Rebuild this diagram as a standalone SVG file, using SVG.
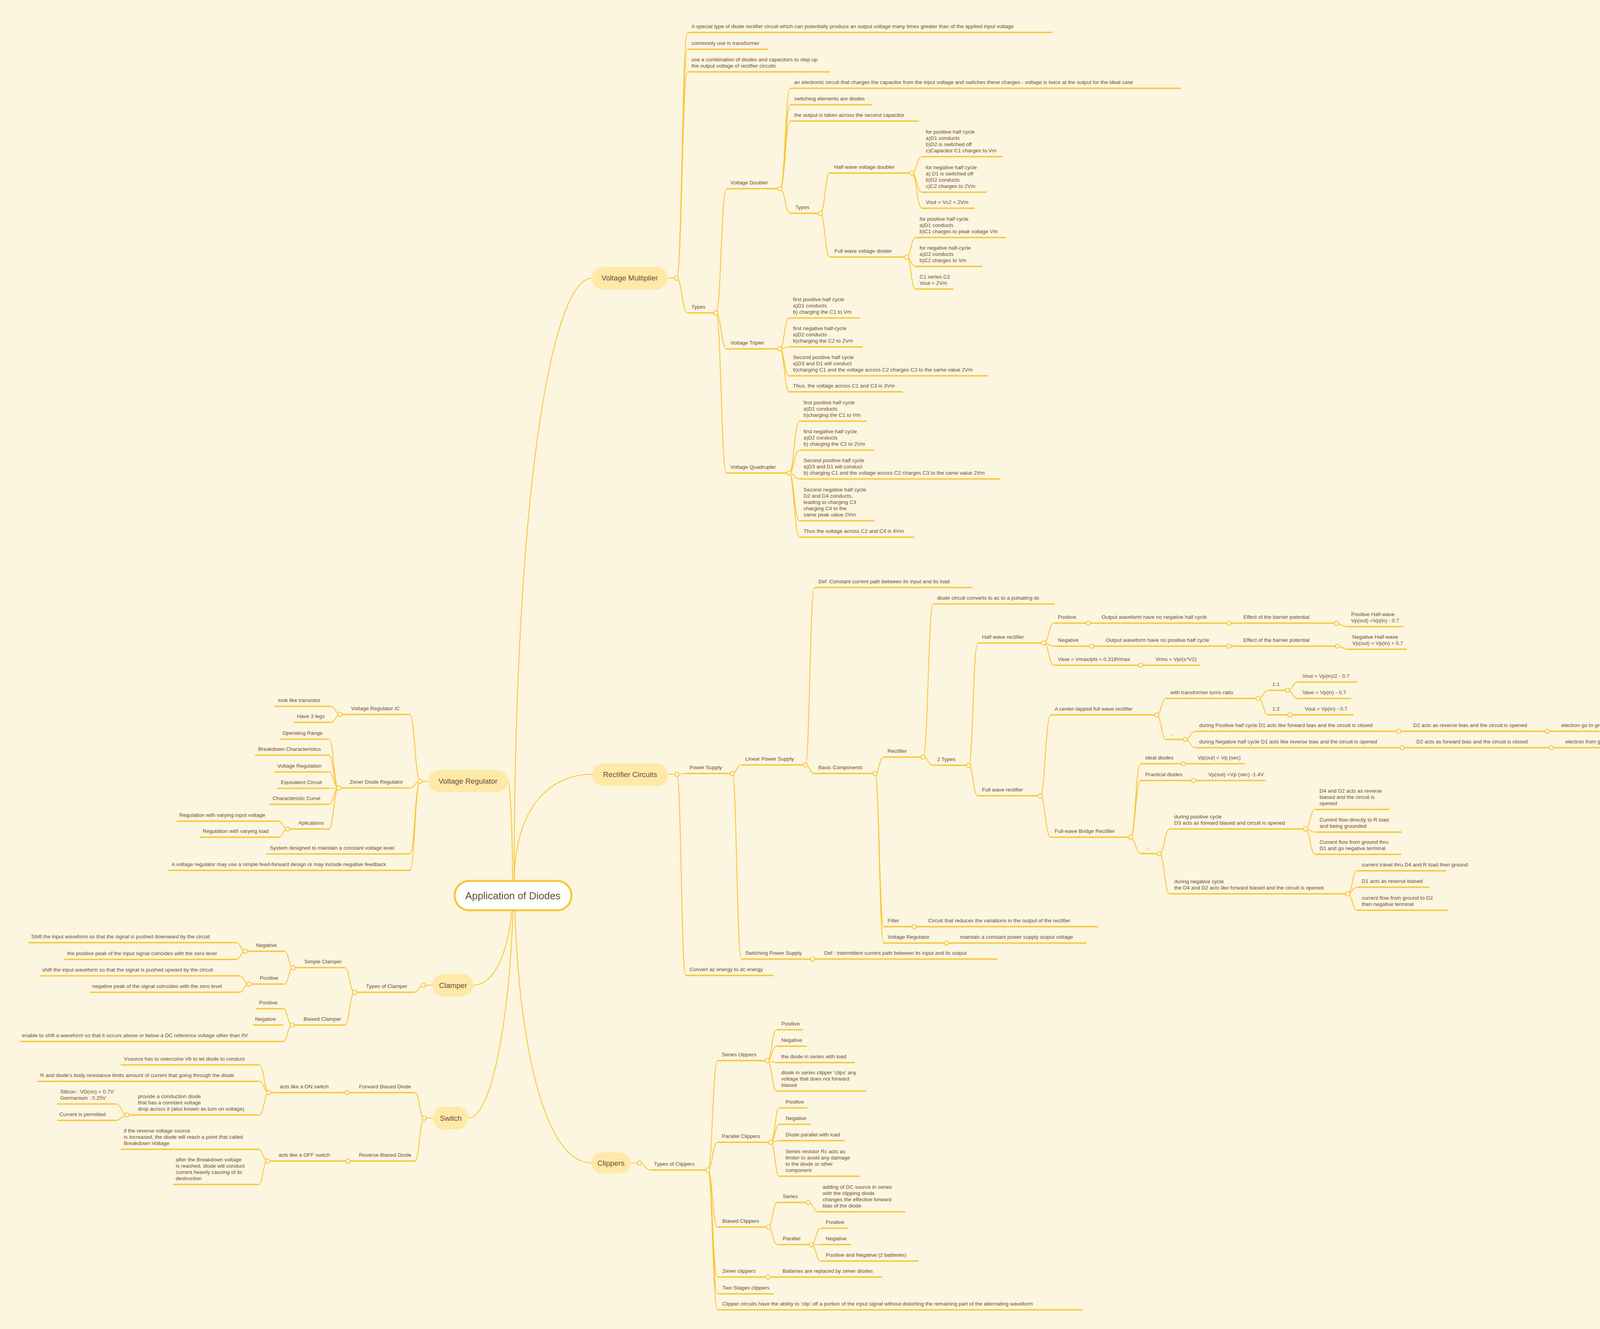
<svg xmlns="http://www.w3.org/2000/svg" width="4766" height="3402" viewBox="0 0 4766 3402">
<style>
.bg{fill:#FCF5DF}
.l{fill:none;stroke:#F8C635;stroke-width:2.2}
.u{stroke:#F8C635;stroke-width:3.5}
.j{fill:#FCF5DF;stroke:#F8C635;stroke-width:2.2}
.t{font-family:"Liberation Sans",Arial,sans-serif;font-size:13.5px;fill:#6B4F3B}
.b{font-family:"Liberation Sans",Arial,sans-serif;font-size:19px;fill:#6B4F3B;text-anchor:middle}
.c{font-family:"Liberation Sans",Arial,sans-serif;font-size:26px;fill:#6B4F3B;text-anchor:middle}
.bn{fill:#FEE9A8}
</style>
<rect class="bg" x="0" y="0" width="4766" height="3402"/>
<g id="connectors">
<path class="l" d="M1316 2255C1318 1200 1420 712 1515 712"/>
<path class="l" d="M1316 2255C1320 2050 1420 1982 1516 1982"/>
<path class="l" d="M1312 2255C1312 2100 1305 2000 1300 2000"/>
<path class="l" d="M1310 2330C1300 2450 1260 2522 1212 2522"/>
<path class="l" d="M1313 2330C1305 2600 1260 2862 1199 2862"/>
<path class="l" d="M1318 2330C1330 2700 1400 2977 1514 2977"/>
<path class="l" d="M1710 712H1732M1711 1982H1733M1097 2000H1076M1107 2522H1084M1108 2862H1086M1614 2977H1637"/>
<!-- VM -->
<path class="l" d="M1732 712C1746 712 1746 83 1760 83M1732 712C1746 712 1746 126 1760 126M1732 712C1746 712 1746 184 1760 184M1732 712C1746 712 1746 801 1760 801"/>
<path class="l" d="M1833 801C1846 801 1846 483 1860 483M1833 801C1846 801 1846 893 1860 893M1833 801C1846 801 1846 1211 1860 1211"/>
<path class="l" d="M1997 483C2010 483 2010 226 2023 226M1997 483C2010 483 2010 268 2023 268M1997 483C2010 483 2010 310 2023 310M1997 483C2010 483 2010 546 2023 546"/>
<path class="l" d="M2100 546C2112 546 2112 443 2124 443M2100 546C2112 546 2112 658 2124 658"/>
<path class="l" d="M2334 443C2347 443 2347 401 2360 401M2334 443C2347 443 2347 492 2360 492M2334 443C2347 443 2347 533 2360 533"/>
<path class="l" d="M2321 658C2332 658 2332 608 2344 608M2321 658C2332 658 2332 682 2344 682M2321 658C2332 658 2332 740 2344 740"/>
<path class="l" d="M1996 893C2008 893 2008 814 2020 814M1996 893C2008 893 2008 888 2020 888M1996 893C2008 893 2008 962 2020 962M1996 893C2008 893 2008 1003 2020 1003"/>
<path class="l" d="M2020 1211C2033 1211 2033 1078 2047 1078M2020 1211C2033 1211 2033 1152 2047 1152M2020 1211C2033 1211 2033 1226 2047 1226M2020 1211C2033 1211 2033 1333 2047 1333M2020 1211C2033 1211 2033 1375 2047 1375"/>
<!-- Rectifier -->
<path class="l" d="M1733 1982C1744 1982 1744 1980 1755 1980M1733 1982C1744 1982 1744 2497 1755 2497"/>
<path class="l" d="M1875 1980C1886 1980 1886 1958 1898 1958M1875 1980C1886 1980 1886 2455 1898 2455"/>
<path class="l" d="M2062 1958C2073 1958 2073 1504 2085 1504M2062 1958C2073 1958 2073 1980 2085 1980"/>
<path class="l" d="M2240 1980C2251 1980 2251 1938 2262 1938M2240 1980C2251 1980 2251 2372 2262 2372M2240 1980C2251 1980 2251 2414 2262 2414"/>
<path class="l" d="M2363 1938C2376 1938 2376 1546 2389 1546M2363 1938C2376 1938 2376 1959 2389 1959"/>
<path class="l" d="M2480 1959C2491 1959 2491 1646 2503 1646M2480 1959C2491 1959 2491 2037 2503 2037"/>
<path class="l" d="M2672 1646C2685 1646 2685 1595 2698 1595M2672 1646C2685 1646 2685 1654 2698 1654M2672 1646C2685 1646 2685 1703 2698 1703"/>
<path class="l" d="M3421 1596C3434 1596 3434 1604 3447 1604M3424 1654C3437 1654 3437 1662 3450 1662"/>
<path class="l" d="M2663 2037C2676 2037 2676 1830 2690 1830M2663 2037C2676 2037 2676 2143 2690 2143"/>
<path class="l" d="M2961 1830C2973 1830 2973 1788 2985 1788M2961 1830C2973 1830 2973 1893 2985 1893"/>
<path class="l" d="M3221 1788C3234 1788 3234 1767 3247 1767M3221 1788C3234 1788 3234 1830 3247 1830"/>
<path class="l" d="M3296 1767C3309 1767 3309 1746 3322 1746M3296 1767C3309 1767 3309 1788 3322 1788"/>
<path class="l" d="M3034 1893C3047 1893 3047 1872 3060 1872M3034 1893C3047 1893 3047 1914 3060 1914"/>
<path class="l" d="M2894 2143C2907 2143 2907 1955 2920 1955M2894 2143C2907 2143 2907 1998 2920 1998M2894 2143C2907 2143 2907 2185 2920 2185"/>
<path class="l" d="M2968 2185C2981 2185 2981 2122 2994 2122M2968 2185C2981 2185 2981 2288 2994 2288"/>
<path class="l" d="M3342 2122C3354 2122 3354 2072 3367 2072M3342 2122C3354 2122 3354 2130 3367 2130M3342 2122C3354 2122 3354 2187 3367 2187"/>
<path class="l" d="M3450 2288C3462 2288 3462 2229 3474 2229M3450 2288C3462 2288 3462 2271 3474 2271M3450 2288C3462 2288 3462 2330 3474 2330"/>
<!-- Voltage Regulator -->
<path class="l" d="M1076 2000C1062 2000 1062 1829 1049 1829M1076 2000C1062 2000 1062 2017 1049 2017M1076 2000C1062 2000 1062 2186 1049 2186M1076 2000C1062 2000 1062 2228 1049 2228"/>
<path class="l" d="M871 1829C859 1829 859 1808 847 1808M871 1829C859 1829 859 1849 847 1849"/>
<path class="l" d="M867 2017C854 2017 854 1892 842 1892M867 2017C854 2017 854 1933 842 1933M867 2017C854 2017 854 1976 842 1976M867 2017C854 2017 854 2018 842 2018M867 2017C854 2017 854 2059 842 2059M867 2017C854 2017 854 2122 842 2122"/>
<path class="l" d="M736 2122C724 2122 724 2102 713 2102M736 2122C724 2122 724 2143 713 2143"/>
<!-- Clamper -->
<path class="l" d="M1084 2522C1072 2522 1072 2540 1061 2540"/>
<path class="l" d="M908 2540C895 2540 895 2477 883 2477M908 2540C895 2540 895 2624 883 2624"/>
<path class="l" d="M750 2477C739 2477 739 2435 728 2435M750 2477C739 2477 739 2519 728 2519"/>
<path class="l" d="M628 2435C616 2435 616 2413 605 2413M628 2435C616 2435 616 2456 605 2456"/>
<path class="l" d="M637 2519C625 2519 625 2498 613 2498M637 2519C625 2519 625 2540 613 2540"/>
<path class="l" d="M748 2624C736 2624 736 2582 725 2582M748 2624C736 2624 736 2666 725 2666"/>
<!-- Switch -->
<path class="l" d="M1086 2862C1074 2862 1074 2797 1062 2797M1086 2862C1074 2862 1074 2972 1062 2972"/>
<path class="l" d="M688 2797C676 2797 676 2726 664 2726M688 2797C676 2797 676 2768 664 2768M688 2797C676 2797 676 2854 664 2854"/>
<path class="l" d="M325 2854C311 2854 311 2826 297 2826M325 2854C311 2854 311 2868 297 2868"/>
<path class="l" d="M685 2972C673 2972 673 2942 662 2942M685 2972C673 2972 673 3032 662 3032"/>
<!-- Clippers -->
<path class="l" d="M1637 2977C1651 2977 1651 2995 1665 2995"/>
<path class="l" d="M1812 2995C1824 2995 1824 2715 1837 2715M1812 2995C1824 2995 1824 2924 1837 2924M1812 2995C1824 2995 1824 3141 1837 3141M1812 2995C1824 2995 1824 3269 1837 3269M1812 2995C1824 2995 1824 3312 1837 3312M1812 2995C1824 2995 1824 3353 1837 3353"/>
<path class="l" d="M1964 2715C1976 2715 1976 2636 1988 2636M1964 2715C1976 2715 1976 2678 1988 2678M1964 2715C1976 2715 1976 2720 1988 2720M1964 2715C1976 2715 1976 2793 1988 2793"/>
<path class="l" d="M1973 2924C1984 2924 1984 2836 1995 2836M1973 2924C1984 2924 1984 2878 1995 2878M1973 2924C1984 2924 1984 2920 1995 2920M1973 2924C1984 2924 1984 3011 1995 3011"/>
<path class="l" d="M1967 3141C1978 3141 1978 3078 1990 3078M1967 3141C1978 3141 1978 3186 1990 3186"/>
<path class="l" d="M2069 3078C2082 3078 2082 3102 2096 3102"/>
<path class="l" d="M2077 3186C2089 3186 2089 3144 2101 3144M2077 3186C2089 3186 2089 3186 2101 3186M2077 3186C2089 3186 2089 3228 2101 3228"/>
</g>

<g id="center"><rect x="1164" y="2255" width="299" height="75" rx="37" fill="#FFFFFF" stroke="#F8C635" stroke-width="5"/><text class="c" x="1313" y="2302">Application of Diodes</text></g>

<g id="voltage-multiplier"><rect class="bn" x="1515" y="683" width="195" height="58" rx="29"/><text class="b" x="1612" y="718">Voltage Multiplier</text><circle class="j" cx="1732" cy="712" r="5.5"/></g>
<g id="vm-def"><line class="u" x1="1760" y1="83" x2="2694" y2="83"/><text class="t" x="1770" y="72">A special type of diode rectifier circuit which can potentially produce an output voltage many times greater than of the applied input voltage</text></g>
<g id="vm-transformer"><line class="u" x1="1760" y1="126" x2="1966" y2="126"/><text class="t" x="1770" y="115">commonly use in transformer</text></g>
<g id="vm-combination"><line class="u" x1="1760" y1="184" x2="2125" y2="184"/><text class="t" x="1770" y="157">use a combination of diodes and capacitors to step up<tspan x="1770" y="173">the output voltage of rectifier circuits</tspan></text></g>
<g id="vm-types"><line class="u" x1="1760" y1="801" x2="1833" y2="801"/><text class="t" x="1770" y="790">Types</text><circle class="j" cx="1833" cy="801" r="5.5"/></g>
<g id="doubler"><line class="u" x1="1860" y1="483" x2="1997" y2="483"/><text class="t" x="1870" y="472">Voltage Doubler</text><circle class="j" cx="1997" cy="483" r="5.5"/></g>
<g id="d1"><line class="u" x1="2023" y1="226" x2="3024" y2="226"/><text class="t" x="2033" y="215">an electronic circuit that charges the capacitor from the input voltage and switches these charges - voltage is twice at the output for the ideal case</text></g>
<g id="d2"><line class="u" x1="2023" y1="268" x2="2233" y2="268"/><text class="t" x="2033" y="257">switching elements are diodes</text></g>
<g id="d3"><line class="u" x1="2023" y1="310" x2="2353" y2="310"/><text class="t" x="2033" y="299">the output is taken across the second capacitor</text></g>
<g id="d-types"><line class="u" x1="2023" y1="546" x2="2100" y2="546"/><text class="t" x="2036" y="535">Types</text><circle class="j" cx="2100" cy="546" r="5.5"/></g>
<g id="half-doubler"><line class="u" x1="2124" y1="443" x2="2334" y2="443"/><text class="t" x="2135" y="432">Half wave voltage doubler</text><circle class="j" cx="2334" cy="443" r="5.5"/></g>
<g id="hd1"><line class="u" x1="2360" y1="401" x2="2566" y2="401"/><text class="t" x="2370" y="342">for positive half cycle<tspan x="2370" y="358">a)D1 conducts</tspan><tspan x="2370" y="374">b)D2 is switched off</tspan><tspan x="2370" y="390">c)Capacitor C1 charges to Vm</tspan></text></g>
<g id="hd2"><line class="u" x1="2360" y1="492" x2="2526" y2="492"/><text class="t" x="2370" y="433">for negative half cycle<tspan x="2370" y="449">a) D1 is switched off</tspan><tspan x="2370" y="465">b)D2 conducts</tspan><tspan x="2370" y="481">c)C2 charges to 2Vm</tspan></text></g>
<g id="hd3"><line class="u" x1="2360" y1="533" x2="2495" y2="533"/><text class="t" x="2370" y="522">Vout = Vc2 = 2Vm</text></g>
<g id="full-doubler"><line class="u" x1="2124" y1="658" x2="2321" y2="658"/><text class="t" x="2136" y="647">Full wave voltage divider</text><circle class="j" cx="2321" cy="658" r="5.5"/></g>
<g id="fd1"><line class="u" x1="2344" y1="608" x2="2575" y2="608"/><text class="t" x="2354" y="565">for positive half cycle<tspan x="2354" y="581">a)D1 conducts</tspan><tspan x="2354" y="597">b)C1 charges to peak voltage Vm</tspan></text></g>
<g id="fd2"><line class="u" x1="2344" y1="682" x2="2515" y2="682"/><text class="t" x="2354" y="639">for negative half-cycle<tspan x="2354" y="655">a)D2 conducts</tspan><tspan x="2354" y="671">b)C2 charges to Vm</tspan></text></g>
<g id="fd3"><line class="u" x1="2344" y1="740" x2="2441" y2="740"/><text class="t" x="2354" y="713">C1 series C2<tspan x="2354" y="729">Vout = 2Vm</tspan></text></g>
<g id="tripler"><line class="u" x1="1860" y1="893" x2="1996" y2="893"/><text class="t" x="1870" y="882">Voltage Tripler</text><circle class="j" cx="1996" cy="893" r="5.5"/></g>
<g id="t1"><line class="u" x1="2020" y1="814" x2="2201" y2="814"/><text class="t" x="2030" y="771">first positive half cycle<tspan x="2030" y="787">a)D1 conducts</tspan><tspan x="2030" y="803">b) charging the C1 to Vm</tspan></text></g>
<g id="t2"><line class="u" x1="2020" y1="888" x2="2209" y2="888"/><text class="t" x="2030" y="845">first negative half-cycle<tspan x="2030" y="861">a)D2 conducts</tspan><tspan x="2030" y="877">b)charging the C2 to 2Vm</tspan></text></g>
<g id="t3"><line class="u" x1="2020" y1="962" x2="2529" y2="962"/><text class="t" x="2030" y="919">Second positive half cycle<tspan x="2030" y="935">a)D3 and D1 will conduct</tspan><tspan x="2030" y="951">b)charging C1 and the voltage across C2 charges C3 to the same value 2Vm</tspan></text></g>
<g id="t4"><line class="u" x1="2020" y1="1003" x2="2311" y2="1003"/><text class="t" x="2030" y="992">Thus, the voltage across C1 and C3 is 3Vm</text></g>
<g id="quadrupler"><line class="u" x1="1860" y1="1211" x2="2020" y2="1211"/><text class="t" x="1870" y="1200">Voltage Quadrupler</text><circle class="j" cx="2020" cy="1211" r="5.5"/></g>
<g id="q1"><line class="u" x1="2047" y1="1078" x2="2219" y2="1078"/><text class="t" x="2057" y="1035">first positive half cycle<tspan x="2057" y="1051">a)D1 conducts</tspan><tspan x="2057" y="1067">b)charging the C1 to Vm</tspan></text></g>
<g id="q2"><line class="u" x1="2047" y1="1152" x2="2238" y2="1152"/><text class="t" x="2057" y="1109">first negative half cycle<tspan x="2057" y="1125">a)D2 conducts</tspan><tspan x="2057" y="1141">b) charging the C2 to 2Vm</tspan></text></g>
<g id="q3"><line class="u" x1="2047" y1="1226" x2="2560" y2="1226"/><text class="t" x="2057" y="1183">Second positive half cycle<tspan x="2057" y="1199">a)D3 and D1 will conduct</tspan><tspan x="2057" y="1215">b) charging C1 and the voltage across C2 charges C3 to the same value 2Vm</tspan></text></g>
<g id="q4"><line class="u" x1="2047" y1="1333" x2="2238" y2="1333"/><text class="t" x="2057" y="1258">Second negative half cycle<tspan x="2057" y="1274">D2 and D4 conducts,</tspan><tspan x="2057" y="1290">leading to charging C3</tspan><tspan x="2057" y="1306">charging C4 to the</tspan><tspan x="2057" y="1322">same peak value 2Vm</tspan></text></g>
<g id="q5"><line class="u" x1="2047" y1="1375" x2="2341" y2="1375"/><text class="t" x="2057" y="1364">Thus the voltage across C2 and C4 is 4Vm</text></g>

<g id="rectifier-circuits"><rect class="bn" x="1516" y="1954" width="195" height="58" rx="29"/><text class="b" x="1613" y="1989">Rectifier Circuits</text><circle class="j" cx="1733" cy="1982" r="5.5"/></g>
<g id="power-supply"><line class="u" x1="1755" y1="1980" x2="1875" y2="1980"/><text class="t" x="1765" y="1969">Power Supply</text><circle class="j" cx="1875" cy="1980" r="5.5"/></g>
<g id="convert"><line class="u" x1="1755" y1="2497" x2="1981" y2="2497"/><text class="t" x="1765" y="2486">Convert ac energy to dc energy</text></g>
<g id="linear-ps"><line class="u" x1="1898" y1="1958" x2="2062" y2="1958"/><text class="t" x="1908" y="1947">Linear Power Supply</text><circle class="j" cx="2062" cy="1958" r="5.5"/></g>
<g id="switching-ps"><line class="u" x1="1898" y1="2455" x2="2554" y2="2455"/><text class="t" x="1908" y="2444">Switching Power Supply</text><text class="t" x="2110" y="2444">Def : intermittent current path between its input and its output</text><circle class="j" cx="2080" cy="2455" r="5.5"/></g>
<g id="lps-def"><line class="u" x1="2085" y1="1504" x2="2489" y2="1504"/><text class="t" x="2095" y="1493">Def :Constant current path between its input and its load</text></g>
<g id="basic-components"><line class="u" x1="2085" y1="1980" x2="2240" y2="1980"/><text class="t" x="2095" y="1969">Basic Components</text><circle class="j" cx="2240" cy="1980" r="5.5"/></g>
<g id="rectifier"><line class="u" x1="2262" y1="1938" x2="2363" y2="1938"/><text class="t" x="2272" y="1927">Rectifier</text><circle class="j" cx="2363" cy="1938" r="5.5"/></g>
<g id="filter"><line class="u" x1="2262" y1="2372" x2="2811" y2="2372"/><text class="t" x="2272" y="2361">Filter</text><text class="t" x="2376" y="2361">Circuit that reduces the variations in the output of the rectifier</text><circle class="j" cx="2340" cy="2372" r="5.5"/></g>
<g id="bc-regulator"><line class="u" x1="2262" y1="2414" x2="2781" y2="2414"/><text class="t" x="2272" y="2403">Voltage Regulator</text><text class="t" x="2458" y="2403">maintain a constant power supply output voltage</text><circle class="j" cx="2423" cy="2414" r="5.5"/></g>
<g id="r-def"><line class="u" x1="2389" y1="1546" x2="2700" y2="1546"/><text class="t" x="2399" y="1535">diode circuit converts to ac to a pulsating dc</text></g>
<g id="two-types"><line class="u" x1="2389" y1="1959" x2="2480" y2="1959"/><text class="t" x="2399" y="1948">2 Types</text><circle class="j" cx="2480" cy="1959" r="5.5"/></g>
<g id="half-wave"><line class="u" x1="2503" y1="1646" x2="2672" y2="1646"/><text class="t" x="2514" y="1635">Half wave rectifier</text><circle class="j" cx="2672" cy="1646" r="5.5"/></g>
<g id="hw-positive"><line class="u" x1="2698" y1="1595" x2="3421" y2="1595"/><text class="t" x="2708" y="1584">Positive</text><text class="t" x="2820" y="1584">Output waveform have no negative half cycle</text><text class="t" x="3183" y="1584">Effect of the barrier potential</text><circle class="j" cx="2786" cy="1595" r="5.5"/><circle class="j" cx="3146" cy="1595" r="5.5"/><line class="u" x1="3447" y1="1604" x2="3593" y2="1604"/><text class="t" x="3459" y="1577">Positive Half-wave<tspan x="3459" y="1593">Vp(out) =Vp(in) - 0.7</tspan></text><circle class="j" cx="3421" cy="1596" r="5.5"/></g>
<g id="hw-negative"><line class="u" x1="2698" y1="1654" x2="3424" y2="1654"/><text class="t" x="2708" y="1643">Negative</text><text class="t" x="2831" y="1643">Output waveform have no positive half cycle</text><text class="t" x="3183" y="1643">Effect of the barrier potential</text><circle class="j" cx="2794" cy="1654" r="5.5"/><circle class="j" cx="3146" cy="1654" r="5.5"/><line class="u" x1="3450" y1="1662" x2="3602" y2="1662"/><text class="t" x="3462" y="1635">Negative Half-wave<tspan x="3462" y="1651">Vp(out) = Vp(in) + 0.7</tspan></text><circle class="j" cx="3424" cy="1654" r="5.5"/></g>
<g id="hw-vave"><line class="u" x1="2698" y1="1703" x2="3073" y2="1703"/><text class="t" x="2708" y="1692">Vave = Vmax/phi = 0.318Vmax</text><text class="t" x="2958" y="1692">Vrms = Vp/(s^V2)</text><circle class="j" cx="2920" cy="1703" r="5.5"/></g>
<g id="full-wave"><line class="u" x1="2503" y1="2037" x2="2663" y2="2037"/><text class="t" x="2514" y="2026">Full wave rectifier</text><circle class="j" cx="2663" cy="2037" r="5.5"/></g>
<g id="center-tapped"><line class="u" x1="2690" y1="1830" x2="2961" y2="1830"/><text class="t" x="2700" y="1819">A center-tapped full wave rectifier</text><circle class="j" cx="2961" cy="1830" r="5.5"/></g>
<g id="turns-ratio"><line class="u" x1="2985" y1="1788" x2="3221" y2="1788"/><text class="t" x="2996" y="1777">with transformer turns ratio</text><circle class="j" cx="3221" cy="1788" r="5.5"/></g>
<g id="ratio11"><line class="u" x1="3247" y1="1767" x2="3296" y2="1767"/><text class="t" x="3257" y="1756">1:1</text><circle class="j" cx="3296" cy="1767" r="5.5"/></g>
<g id="r11a"><line class="u" x1="3322" y1="1746" x2="3474" y2="1746"/><text class="t" x="3334" y="1735">Vout = Vp(in)/2 - 0.7</text></g>
<g id="r11b"><line class="u" x1="3322" y1="1788" x2="3459" y2="1788"/><text class="t" x="3334" y="1777">Vave = Vp(in) - 0.7</text></g>
<g id="ratio12"><line class="u" x1="3247" y1="1830" x2="3465" y2="1830"/><text class="t" x="3257" y="1819">1:2</text><text class="t" x="3340" y="1819">Vout = Vp(in) - 0.7</text><circle class="j" cx="3302" cy="1830" r="5.5"/></g>
<g id="ct-dots"><line class="u" x1="2985" y1="1893" x2="3034" y2="1893"/><text class="t" x="2998" y="1882">..</text><circle class="j" cx="3034" cy="1893" r="5.5"/></g>
<g id="ct-pos"><line class="u" x1="3060" y1="1872" x2="4214" y2="1872"/><text class="t" x="3070" y="1861">during Positive half cycle D1 acts like forward bias and the circuit is closed</text><text class="t" x="3618" y="1861">D2 acts as reverse bias and the circuit is opened</text><text class="t" x="3997" y="1861">electron go to ground via R load</text><circle class="j" cx="3581" cy="1872" r="5.5"/><circle class="j" cx="3961" cy="1872" r="5.5"/></g>
<g id="ct-neg"><line class="u" x1="3060" y1="1914" x2="4716" y2="1914"/><text class="t" x="3070" y="1903">during Negative half cycle D1 acts like reverse bias and the circuit is opened</text><text class="t" x="3626" y="1903">D2 acts as forward bias and the circuit is closed</text><text class="t" x="4007" y="1903">electron from ground enter form half point and going through the D2 and backs again to ground via R load</text><circle class="j" cx="3590" cy="1914" r="5.5"/><circle class="j" cx="3971" cy="1914" r="5.5"/></g>
<g id="bridge"><line class="u" x1="2690" y1="2143" x2="2894" y2="2143"/><text class="t" x="2700" y="2132">Full-wave Bridge Rectifier</text><circle class="j" cx="2894" cy="2143" r="5.5"/></g>
<g id="ideal"><line class="u" x1="2920" y1="1955" x2="3186" y2="1955"/><text class="t" x="2932" y="1944">ideal diodes</text><text class="t" x="3066" y="1944">Vp(out) = Vp (sec)</text><circle class="j" cx="3030" cy="1955" r="5.5"/></g>
<g id="practical"><line class="u" x1="2920" y1="1998" x2="3240" y2="1998"/><text class="t" x="2932" y="1987">Practical diodes</text><text class="t" x="3093" y="1987">Vp(out) =Vp (sec) -1.4V</text><circle class="j" cx="3056" cy="1998" r="5.5"/></g>
<g id="fb-dots"><line class="u" x1="2920" y1="2185" x2="2968" y2="2185"/><text class="t" x="2935" y="2174">..</text><circle class="j" cx="2968" cy="2185" r="5.5"/></g>
<g id="fb-pos"><line class="u" x1="2994" y1="2122" x2="3342" y2="2122"/><text class="t" x="3006" y="2095">during positive cycle<tspan x="3006" y="2111">D3 acts as forward biased and circuit is opened</tspan></text><circle class="j" cx="3342" cy="2122" r="5.5"/></g>
<g id="fbp1"><line class="u" x1="3367" y1="2072" x2="3557" y2="2072"/><text class="t" x="3378" y="2029">D4 and D2 acts as reverse<tspan x="3378" y="2045">biased and the circuit is</tspan><tspan x="3378" y="2061">opened</tspan></text></g>
<g id="fbp2"><line class="u" x1="3367" y1="2130" x2="3588" y2="2130"/><text class="t" x="3378" y="2103">Current flow directly to R load<tspan x="3378" y="2119">and being grounded</tspan></text></g>
<g id="fbp3"><line class="u" x1="3367" y1="2187" x2="3588" y2="2187"/><text class="t" x="3378" y="2160">Current flow from ground thru<tspan x="3378" y="2176">D1 and go negative terminal</tspan></text></g>
<g id="fb-neg"><line class="u" x1="2994" y1="2288" x2="3450" y2="2288"/><text class="t" x="3006" y="2261">during negative cycle<tspan x="3006" y="2277">the D4 and D2 acts like forward biased and the circuit is opened</tspan></text><circle class="j" cx="3450" cy="2288" r="5.5"/></g>
<g id="fbn1"><line class="u" x1="3474" y1="2229" x2="3702" y2="2229"/><text class="t" x="3486" y="2218">current travel thru D4 and R load then ground</text></g>
<g id="fbn2"><line class="u" x1="3474" y1="2271" x2="3658" y2="2271"/><text class="t" x="3486" y="2260">D1 acts as reverse biased</text></g>
<g id="fbn3"><line class="u" x1="3474" y1="2330" x2="3706" y2="2330"/><text class="t" x="3486" y="2303">current flow from ground to D2<tspan x="3486" y="2319">then negative terminal</tspan></text></g>

<g id="voltage-regulator"><rect class="bn" x="1097" y="1971" width="203" height="57" rx="28"/><text class="b" x="1198" y="2006">Voltage Regulator</text><circle class="j" cx="1076" cy="2000" r="5.5"/></g>
<g id="vr-ic"><line class="u" x1="871" y1="1829" x2="1049" y2="1829"/><text class="t" x="899" y="1818">Voltage Regulator IC</text><circle class="j" cx="871" cy="1829" r="5.5"/></g>
<g id="ic1"><line class="u" x1="703" y1="1808" x2="847" y2="1808"/><text class="t" x="712" y="1797">look like transistor</text></g>
<g id="ic2"><line class="u" x1="752" y1="1849" x2="847" y2="1849"/><text class="t" x="760" y="1838">Have 3 legs</text></g>
<g id="zener-reg"><line class="u" x1="867" y1="2017" x2="1049" y2="2017"/><text class="t" x="895" y="2006">Zener Diode Regulator</text><circle class="j" cx="867" cy="2017" r="5.5"/></g>
<g id="z1"><line class="u" x1="716" y1="1892" x2="842" y2="1892"/><text class="t" x="723" y="1881">Operating Range</text></g>
<g id="z2"><line class="u" x1="653" y1="1933" x2="842" y2="1933"/><text class="t" x="661" y="1922">Breakdown Characteristics</text></g>
<g id="z3"><line class="u" x1="702" y1="1976" x2="842" y2="1976"/><text class="t" x="710" y="1965">Voltage Regulation</text></g>
<g id="z4"><line class="u" x1="709" y1="2018" x2="842" y2="2018"/><text class="t" x="719" y="2007">Equivalent Circuit</text></g>
<g id="z5"><line class="u" x1="690" y1="2059" x2="842" y2="2059"/><text class="t" x="698" y="2048">Characteristic Curve</text></g>
<g id="z-app"><line class="u" x1="736" y1="2122" x2="842" y2="2122"/><text class="t" x="764" y="2111">Aplications</text><circle class="j" cx="736" cy="2122" r="5.5"/></g>
<g id="app1"><line class="u" x1="452" y1="2102" x2="713" y2="2102"/><text class="t" x="459" y="2091">Regulation with varying input voltage</text></g>
<g id="app2"><line class="u" x1="511" y1="2143" x2="713" y2="2143"/><text class="t" x="519" y="2132">Regulation with varying load</text></g>
<g id="vr-system"><line class="u" x1="682" y1="2186" x2="1049" y2="2186"/><text class="t" x="691" y="2175">System designed to maintain a constant voltage level</text></g>
<g id="vr-feedback"><line class="u" x1="430" y1="2228" x2="1049" y2="2228"/><text class="t" x="439" y="2217">A voltage regulator may use a simple feed-forward design or may include negative feedback</text></g>

<g id="clamper"><rect class="bn" x="1107" y="2493" width="105" height="58" rx="29"/><text class="b" x="1160" y="2529">Clamper</text><circle class="j" cx="1084" cy="2522" r="5.5"/></g>
<g id="types-clamper"><line class="u" x1="908" y1="2540" x2="1061" y2="2540"/><text class="t" x="937" y="2529">Types of Clamper</text><circle class="j" cx="908" cy="2540" r="5.5"/></g>
<g id="simple-clamper"><line class="u" x1="750" y1="2477" x2="883" y2="2477"/><text class="t" x="779" y="2466">Simple Clamper</text><circle class="j" cx="750" cy="2477" r="5.5"/></g>
<g id="sc-neg"><line class="u" x1="628" y1="2435" x2="728" y2="2435"/><text class="t" x="655" y="2424">Negative</text><circle class="j" cx="628" cy="2435" r="5.5"/></g>
<g id="scn1"><line class="u" x1="73" y1="2413" x2="605" y2="2413"/><text class="t" x="80" y="2402">Shift the input waveform so that the signal is pushed downward by the circuit</text></g>
<g id="scn2"><line class="u" x1="164" y1="2456" x2="605" y2="2456"/><text class="t" x="172" y="2445">the positive peak of the input signal coincides with the zero level</text></g>
<g id="sc-pos"><line class="u" x1="637" y1="2519" x2="728" y2="2519"/><text class="t" x="665" y="2508">Positive</text><circle class="j" cx="637" cy="2519" r="5.5"/></g>
<g id="scp1"><line class="u" x1="101" y1="2498" x2="613" y2="2498"/><text class="t" x="108" y="2487">shift the input waveform so that the signal is pushed upward by the circuit</text></g>
<g id="scp2"><line class="u" x1="230" y1="2540" x2="613" y2="2540"/><text class="t" x="236" y="2529">negative peak of the signal coincides with the zero level</text></g>
<g id="biased-clamper"><line class="u" x1="748" y1="2624" x2="883" y2="2624"/><text class="t" x="777" y="2613">Biased Clamper</text><circle class="j" cx="748" cy="2624" r="5.5"/></g>
<g id="bc1"><line class="u" x1="655" y1="2582" x2="725" y2="2582"/><text class="t" x="663" y="2571">Positive</text></g>
<g id="bc2"><line class="u" x1="647" y1="2624" x2="725" y2="2624"/><text class="t" x="653" y="2613">Negative</text></g>
<g id="bc3"><line class="u" x1="50" y1="2666" x2="725" y2="2666"/><text class="t" x="56" y="2655">enable to shift a waveform so that it occurs above or below a DC reference voltage other than 0V</text></g>

<g id="switch"><rect class="bn" x="1108" y="2833" width="91" height="58" rx="29"/><text class="b" x="1154" y="2869">Switch</text><circle class="j" cx="1086" cy="2862" r="5.5"/></g>
<g id="forward"><line class="u" x1="688" y1="2797" x2="1062" y2="2797"/><text class="t" x="919" y="2786">Forward Biased Diode</text><text class="t" x="716" y="2786">acts like a ON switch</text><circle class="j" cx="889" cy="2797" r="5.5"/><circle class="j" cx="688" cy="2797" r="5.5"/></g>
<g id="on1"><line class="u" x1="309" y1="2726" x2="664" y2="2726"/><text class="t" x="317" y="2715">Vsource has to overcome Vb to let diode to conduct</text></g>
<g id="on2"><line class="u" x1="95" y1="2768" x2="664" y2="2768"/><text class="t" x="103" y="2757">R and diode's body resistance limits amount of current that going through the diode</text></g>
<g id="on3"><line class="u" x1="325" y1="2854" x2="664" y2="2854"/><text class="t" x="353" y="2811">provide a conduction diode<tspan x="353" y="2827">that has a constant voltage</tspan><tspan x="353" y="2843">drop across it (also known as turn on voltage)</tspan></text><circle class="j" cx="325" cy="2854" r="5.5"/></g>
<g id="on3a"><line class="u" x1="146" y1="2826" x2="297" y2="2826"/><text class="t" x="154" y="2799">Silicon : VD(on) = 0.7V<tspan x="154" y="2815">Germanium : 0.25V</tspan></text></g>
<g id="on3b"><line class="u" x1="146" y1="2868" x2="297" y2="2868"/><text class="t" x="152" y="2857">Current is permitted</text></g>
<g id="reverse"><line class="u" x1="685" y1="2972" x2="1062" y2="2972"/><text class="t" x="919" y="2961">Reverse Biased Diode</text><text class="t" x="713" y="2961">acts like a OFF switch</text><circle class="j" cx="891" cy="2972" r="5.5"/><circle class="j" cx="685" cy="2972" r="5.5"/></g>
<g id="off1"><line class="u" x1="309" y1="2942" x2="662" y2="2942"/><text class="t" x="317" y="2899">if the reverse voltage source<tspan x="317" y="2915">is increased, the diode will reach a point that called</tspan><tspan x="317" y="2931">Breakdown Voltage</tspan></text></g>
<g id="off2"><line class="u" x1="443" y1="3032" x2="662" y2="3032"/><text class="t" x="450" y="2973">after the Breakdown voltage<tspan x="450" y="2989">is reached, diode will conduct</tspan><tspan x="450" y="3005">current heavily causing of its</tspan><tspan x="450" y="3021">destruction</tspan></text></g>

<g id="clippers"><rect class="bn" x="1514" y="2950" width="100" height="54" rx="27"/><text class="b" x="1564" y="2984">Clippers</text><circle class="j" cx="1637" cy="2977" r="5.5"/></g>
<g id="types-clippers"><line class="u" x1="1665" y1="2995" x2="1812" y2="2995"/><text class="t" x="1674" y="2984">Types of Clippers</text><circle class="j" cx="1812" cy="2995" r="5.5"/></g>
<g id="series-clippers"><line class="u" x1="1837" y1="2715" x2="1964" y2="2715"/><text class="t" x="1848" y="2704">Series clippers</text><circle class="j" cx="1964" cy="2715" r="5.5"/></g>
<g id="sc1"><line class="u" x1="1988" y1="2636" x2="2056" y2="2636"/><text class="t" x="2000" y="2625">Positive</text></g>
<g id="sc2"><line class="u" x1="1988" y1="2678" x2="2065" y2="2678"/><text class="t" x="2000" y="2667">Negative</text></g>
<g id="sc3"><line class="u" x1="1988" y1="2720" x2="2188" y2="2720"/><text class="t" x="2000" y="2709">the diode in series with load</text></g>
<g id="sc4"><line class="u" x1="1988" y1="2793" x2="2217" y2="2793"/><text class="t" x="2000" y="2750">diode in series clipper 'clips' any<tspan x="2000" y="2766">voltage that does not forward</tspan><tspan x="2000" y="2782">biased</tspan></text></g>
<g id="parallel-clippers"><line class="u" x1="1837" y1="2924" x2="1973" y2="2924"/><text class="t" x="1848" y="2913">Parallel Clippers</text><circle class="j" cx="1973" cy="2924" r="5.5"/></g>
<g id="pc1"><line class="u" x1="1995" y1="2836" x2="2067" y2="2836"/><text class="t" x="2011" y="2825">Positive</text></g>
<g id="pc2"><line class="u" x1="1995" y1="2878" x2="2075" y2="2878"/><text class="t" x="2011" y="2867">Negative</text></g>
<g id="pc3"><line class="u" x1="1995" y1="2920" x2="2162" y2="2920"/><text class="t" x="2011" y="2909">Diode parallel with load</text></g>
<g id="pc4"><line class="u" x1="1995" y1="3011" x2="2200" y2="3011"/><text class="t" x="2011" y="2952">Series resistor Rc acts as<tspan x="2011" y="2968">limiter to avoid any damage</tspan><tspan x="2011" y="2984">to the diode or other</tspan><tspan x="2011" y="3000">component</tspan></text></g>
<g id="biased-clippers"><line class="u" x1="1837" y1="3141" x2="1967" y2="3141"/><text class="t" x="1849" y="3130">Biased Clippers</text><circle class="j" cx="1967" cy="3141" r="5.5"/></g>
<g id="bic-series"><line class="u" x1="1990" y1="3078" x2="2069" y2="3078"/><text class="t" x="2004" y="3067">Series</text><circle class="j" cx="2069" cy="3078" r="5.5"/></g>
<g id="bic-series1"><line class="u" x1="2096" y1="3102" x2="2318" y2="3102"/><text class="t" x="2106" y="3043">adding of DC source in series<tspan x="2106" y="3059">with the clipping diode</tspan><tspan x="2106" y="3075">changes the effective forward</tspan><tspan x="2106" y="3091">bias of the diode</tspan></text></g>
<g id="bic-parallel"><line class="u" x1="1990" y1="3186" x2="2077" y2="3186"/><text class="t" x="2004" y="3175">Parallel</text><circle class="j" cx="2077" cy="3186" r="5.5"/></g>
<g id="bp1"><line class="u" x1="2101" y1="3144" x2="2170" y2="3144"/><text class="t" x="2114" y="3133">Positive</text></g>
<g id="bp2"><line class="u" x1="2101" y1="3186" x2="2179" y2="3186"/><text class="t" x="2114" y="3175">Negative</text></g>
<g id="bp3"><line class="u" x1="2101" y1="3228" x2="2351" y2="3228"/><text class="t" x="2114" y="3217">Positive and Negative (2 batteries)</text></g>
<g id="zener-clippers"><line class="u" x1="1837" y1="3269" x2="2259" y2="3269"/><text class="t" x="1849" y="3258">Zener clippers</text><text class="t" x="2003" y="3258">Batteries are replaced by zener diodes</text><circle class="j" cx="1966" cy="3269" r="5.5"/></g>
<g id="two-stage"><line class="u" x1="1837" y1="3312" x2="1981" y2="3312"/><text class="t" x="1849" y="3301">Two Stages clippers</text></g>
<g id="clipper-def"><line class="u" x1="1837" y1="3353" x2="2772" y2="3353"/><text class="t" x="1849" y="3342">Clipper circuits have the ability to 'clip' off a portion of the input signal without distorting the remaining part of the alternating waveform</text></g>
</svg>
